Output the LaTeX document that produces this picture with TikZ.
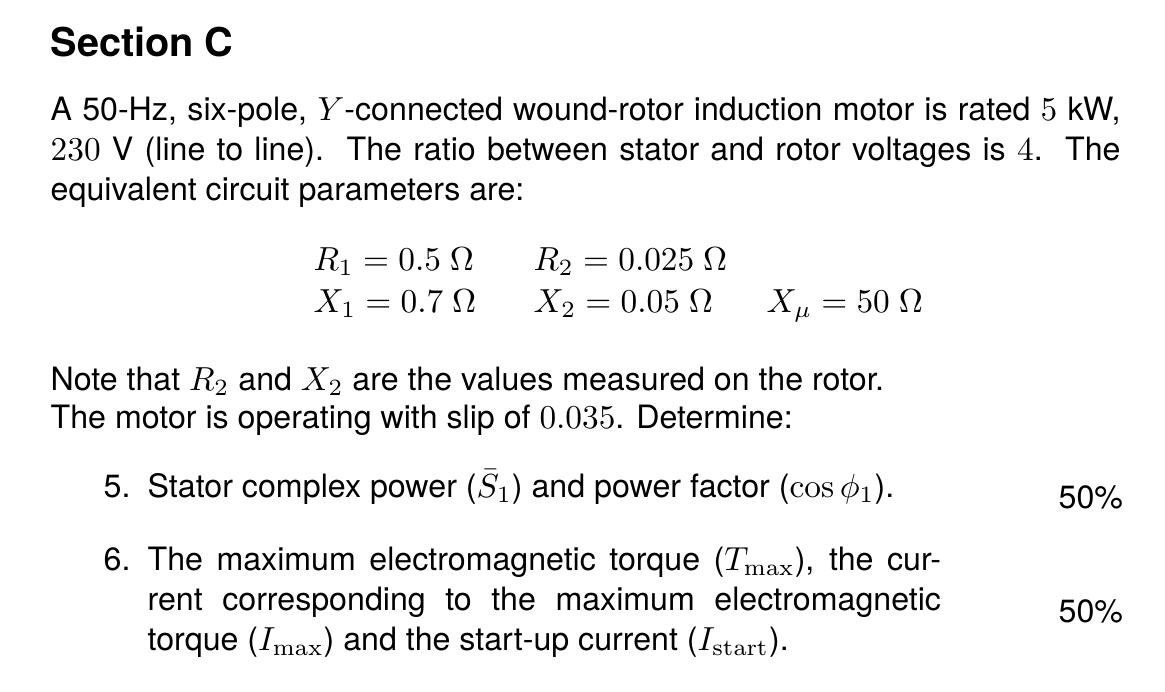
\documentclass[tikz,border=0pt]{standalone}
\usepackage[no-math]{fontspec}
\setmainfont{TeX Gyre Heros}
\begin{document}
\begin{tikzpicture}[x=0.3pt,y=-0.3pt,txt/.style={anchor=base west,inner sep=0pt,font=\fontsize{9.65}{12}\selectfont}]
\useasboundingbox (0,0) rectangle (1165,691);
\node[txt,font=\fontsize{11.9}{14}\selectfont\bfseries] (h) at (50,56) {Section C};
\node[txt,text width=321pt,align=justify] (p) at (50,120) {A 50-Hz, six-pole, $Y$-connected wound-rotor induction motor is rated $5$ kW, $230$ V (line to line).\ \ The ratio between stator and rotor voltages is $4$.\ \ The\linebreak equivalent circuit parameters are:};
\node[txt] (r1) at (313,270) {$R_1=0.5\ \Omega$};
\node[txt] (r2) at (533,270) {$R_2=0.025\ \Omega$};
\node[txt] (x1) at (313,312) {$X_1=0.7\ \Omega$};
\node[txt] (x2) at (533,312) {$X_2=0.05\ \Omega$};
\node[txt] (xm) at (766,312) {$X_\mu=50\ \Omega$};
\node[txt] (n1) at (50,390) {Note that $R_2$ and $X_2$ are the values measured on the rotor.};
\node[txt] (n2) at (50,428) {The motor is operating with slip of $0.035$. Determine:};
\node[txt] (i5) at (103,497) {5.};
\node[txt] (t5) at (147,497) {Stator complex power ($\bar S_1$) and power factor ($\cos\phi_1$).};
\node[txt] (w5) at (1058,508) {50\%};
\node[txt] (i6) at (103,570) {6.};
\node[txt,text width=238pt,align=justify] (t6) at (147,570) {The maximum electromagnetic torque ($T_{\max}$), the cur-\linebreak rent corresponding to the maximum electromagnetic torque ($I_{\max}$) and the start-up current ($I_{\mathrm{start}}$).};
\node[txt] (w6) at (1058,622) {50\%};
\end{tikzpicture}
\end{document}
